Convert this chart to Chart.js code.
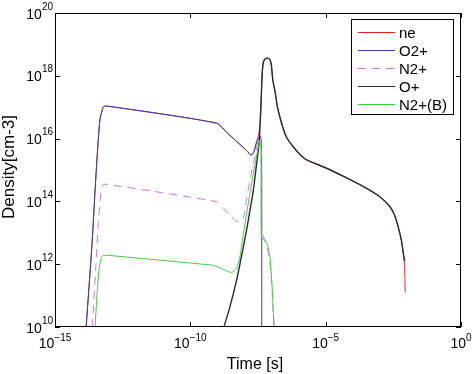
<!DOCTYPE html>
<html>
<head>
<meta charset="utf-8">
<script src="https://cdn.jsdelivr.net/npm/chart.js@4.4.1/dist/chart.umd.min.js"></script>
<style>
  html, body { margin: 0; padding: 0; background: #fff; }
  #wrap { width: 474px; height: 374px; position: relative; }
</style>
</head>
<body>
<div id="wrap"><canvas id="densityChart"></canvas></div>
<script>
// values, as log10(time [s]) and log10(density [cm-3])
const neLogT = [-13.85, -13.64, -13.46, -13.34, -13.22, -13.12, -9.03, -8.6, -8.2, -7.9, -7.8, -7.73, -7.65, -7.55, -7.48,
    -7.42, -7.38, -7.35, -7.31, -7.25, -7.18, -7.10, -7.04, -7.0, -6.99, -6.95, -6.87, -6.78, -6.63, -6.45, -6.2,
    -5.9, -5.7, -5.03, -4.3, -3.6, -3.0, -2.62, -2.45, -2.32, -2.2, -2.13, -2.09, -2.07, -2.06];
const neLogN = [10, 12.55, 15.21, 16.6, 17.0, 17.04, 16.49, 16.15, 15.84, 15.6, 15.5, 15.48, 15.58, 15.9, 16.1,
    16.5, 17.3, 18.0, 18.4, 18.53, 18.56, 18.55, 18.48, 18.3, 18.2, 17.85, 17.5, 17.0, 16.49, 16.05, 15.74,
    15.45, 15.32, 15.08, 14.78, 14.47, 14.15, 13.83, 13.55, 13.19, 12.75, 12.34, 12.0, 11.5, 11.1];

const o2LogT = [-13.85, -13.64, -13.46, -13.34, -13.22, -13.12, -9.03, -8.6, -8.2, -7.9, -7.8, -7.73, -7.65, -7.55, -7.48,
    -7.42, -7.37, -7.36];
const o2LogN = [10, 12.55, 15.21, 16.6, 17.0, 17.04, 16.49, 16.15, 15.84, 15.6, 15.5, 15.48, 15.58, 15.9, 16.02,
    16.08, 15.9, 10];

const n2LogT = [-13.62, -13.5, -13.4, -13.3, -13.24, -13.15, -9.03, -8.8, -8.54, -8.3, -8.17, -8.05, -7.98, -7.92,
    -7.8, -7.67, -7.56, -7.49, -7.42, -7.37, -7.36, -7.3, -7.2, -7.1, -7.04, -6.98, -6.93, -6.9];
const n2LogN = [10, 11.8, 13.3, 14.35, 14.52, 14.55, 13.99, 13.8, 13.56, 13.37, 13.35, 13.45, 13.72, 14.1,
    14.65, 15.21, 15.65, 15.96, 16.05, 15.8, 13.2, 12.9, 12.62, 12.3, 11.9, 11.2, 10.4, 10];

const opLogT = [-8.76, -8.55, -8.29, -8.1, -7.92, -7.78, -7.67, -7.55, -7.46, -7.42, -7.38, -7.35, -7.31, -7.25, -7.18,
    -7.10, -7.04, -7.0, -6.99, -6.95, -6.87, -6.78, -6.63, -6.45, -6.2, -5.9, -5.7, -5.03, -4.3, -3.6, -3.0,
    -2.62, -2.45, -2.32, -2.2, -2.13, -2.08];
const opLogN = [10, 10.6, 11.49, 12.3, 13.09, 13.8, 14.36, 15.21, 15.85, 16.5, 17.3, 18.0, 18.4, 18.53, 18.56,
    18.55, 18.48, 18.3, 18.2, 17.85, 17.5, 17.0, 16.49, 16.05, 15.74, 15.45, 15.32, 15.08, 14.78, 14.47, 14.15,
    13.83, 13.55, 13.19, 12.75, 12.34, 12.1];

const n2bLogT = [-13.52, -13.45, -13.38, -13.3, -13.24, -13.15, -9.2, -9.0, -8.8, -8.62, -8.47, -8.3, -8.17, -8.05,
    -7.92, -7.8, -7.67, -7.56, -7.49, -7.43, -7.39, -7.38, -7.3, -7.18, -7.06, -6.98, -6.91];
const n2bLogN = [10, 11.0, 11.8, 12.18, 12.27, 12.29, 11.97, 11.93, 11.84, 11.77, 11.74, 11.85, 12.23, 12.9,
    13.62, 14.25, 14.89, 15.4, 15.74, 15.95, 15.7, 12.9, 12.78, 12.7, 12.23, 11.3, 10.0];

const xTickExps = [-15, -10, -5, 0];
const yTickExps = [10, 12, 14, 16, 18, 20];
const seriesNames = ['ne', 'O2+', 'N2+', 'O+', 'N2+(B)'];
const seriesColors = ['#e02424', '#3a3ab4', '#c878d8', '#2a2a2a', '#40cc40'];
const seriesWidths = [1, 1, 1, 1.4, 1];

const FONT = "'Liberation Sans', Arial, Helvetica, sans-serif";

function toPoints(logT, logN) {
    return logT.map((t, i) => ({ x: Math.pow(10, t), y: Math.pow(10, logN[i]) }));
}

function expText(e) {
    return e < 0 ? '\u2212' + Math.abs(e) : String(e);
}

// MATLAB-like frame, inward ticks, 10^n labels, titles and boxed legend
const matlabFrame = {
    id: 'matlabFrame',
    afterDraw(chart) {
        const ctx = chart.ctx;
        const a = chart.chartArea;
        const xs = chart.scales.x, ys = chart.scales.y;
        const L = Math.round(a.left), R = Math.round(a.right), T = Math.round(a.top), B = Math.round(a.bottom);
        ctx.save();
        ctx.strokeStyle = '#000';
        ctx.lineWidth = 1;
        ctx.setLineDash([]);
        ctx.strokeRect(L + 0.5, T + 0.5, R - L - 1, B - T - 1);

        ctx.beginPath();
        xTickExps.forEach(e => {
            const px = Math.round(xs.getPixelForValue(Math.pow(10, e))) + 0.5;
            ctx.moveTo(px, B); ctx.lineTo(px, B - 5);
            ctx.moveTo(px, T); ctx.lineTo(px, T + 5);
        });
        yTickExps.forEach(e => {
            const py = Math.round(ys.getPixelForValue(Math.pow(10, e))) + 0.5;
            ctx.moveTo(L, py); ctx.lineTo(L + 5, py);
            ctx.moveTo(R, py); ctx.lineTo(R - 5, py);
        });
        ctx.stroke();

        ctx.fillStyle = '#000';
        ctx.textBaseline = 'alphabetic';
        ctx.textAlign = 'left';
        xTickExps.forEach(e => {
            const px = xs.getPixelForValue(Math.pow(10, e));
            const ex = expText(e);
            ctx.font = '14px ' + FONT;
            const wb = ctx.measureText('10').width;
            ctx.font = '10px ' + FONT;
            const we = ctx.measureText(ex).width;
            const start = px - (wb + we) / 2;
            ctx.font = '14px ' + FONT;
            ctx.fillText('10', start, B + 21);
            ctx.font = '10px ' + FONT;
            ctx.fillText(ex, start + wb, B + 14);
        });
        yTickExps.forEach(e => {
            const py = ys.getPixelForValue(Math.pow(10, e));
            const ex = expText(e);
            ctx.font = '14px ' + FONT;
            const wb = ctx.measureText('10').width;
            ctx.font = '10px ' + FONT;
            const we = ctx.measureText(ex).width;
            const start = L - 2 - wb - we;
            ctx.font = '14px ' + FONT;
            ctx.fillText('10', start, py + 5.5);
            ctx.font = '10px ' + FONT;
            ctx.fillText(ex, start + wb, py - 3.5);
        });

        ctx.textAlign = 'center';
        ctx.font = '16px ' + FONT;
        ctx.fillText('Time [s]', (L + R) / 2 - 3, 369);
        ctx.save();
        ctx.translate(14, 167);
        ctx.rotate(-Math.PI / 2);
        ctx.font = '17px ' + FONT;
        ctx.fillText('Density[cm-3]', 0, 0);
        ctx.restore();

        // legend box
        ctx.fillStyle = '#fff';
        ctx.fillRect(352, 20, 101, 94);
        ctx.strokeStyle = '#000';
        ctx.strokeRect(351.5, 19.5, 102, 95);
        ctx.textAlign = 'left';
        ctx.textBaseline = 'middle';
        ctx.font = '15px ' + FONT;
        seriesNames.forEach((name, i) => {
            const y = Math.round(32 + i * 18.1) + 0.5;
            ctx.strokeStyle = seriesColors[i];
            ctx.setLineDash(name === 'N2+' ? [8, 6] : []);
            ctx.beginPath();
            ctx.moveTo(358, y); ctx.lineTo(395, y);
            ctx.stroke();
            ctx.setLineDash([]);
            ctx.fillStyle = '#000';
            ctx.fillText(name, 399, y + 1);
        });
        ctx.restore();
    }
};

const allSeries = [
    toPoints(neLogT, neLogN),
    toPoints(o2LogT, o2LogN),
    toPoints(n2LogT, n2LogN),
    toPoints(opLogT, opLogN),
    toPoints(n2bLogT, n2bLogN)
];

new Chart(document.getElementById('densityChart').getContext('2d'), {
    type: 'scatter',
    data: {
        datasets: allSeries.map((pts, i) => ({
            label: seriesNames[i],
            data: pts,
            showLine: true,
            borderColor: seriesColors[i],
            backgroundColor: seriesColors[i],
            borderWidth: seriesWidths[i],
            borderDash: seriesNames[i] === 'N2+' ? [8, 6] : [],
            pointRadius: 0,
            tension: 0.2,
            order: seriesNames.length - i
        }))
    },
    options: {
        responsive: true,
        maintainAspectRatio: false,
        animation: false,
        layout: { padding: { top: 13, right: 13, left: 0, bottom: 0 } },
        plugins: { legend: { display: false }, tooltip: { enabled: false } },
        scales: {
            x: {
                type: 'logarithmic', min: 1e-15, max: 1,
                grid: { display: false }, border: { display: false }, ticks: { display: false },
                afterBuildTicks: s => { s.ticks = xTickExps.map(e => ({ value: Math.pow(10, e) })); },
                afterFit: s => { s.height = 47; }
            },
            y: {
                type: 'logarithmic', min: 1e10, max: 1e20,
                grid: { display: false }, border: { display: false }, ticks: { display: false },
                afterBuildTicks: s => { s.ticks = yTickExps.map(e => ({ value: Math.pow(10, e) })); },
                afterFit: s => { s.width = 55; }
            }
        }
    },
    plugins: [matlabFrame]
});
</script>
</body>
</html>
